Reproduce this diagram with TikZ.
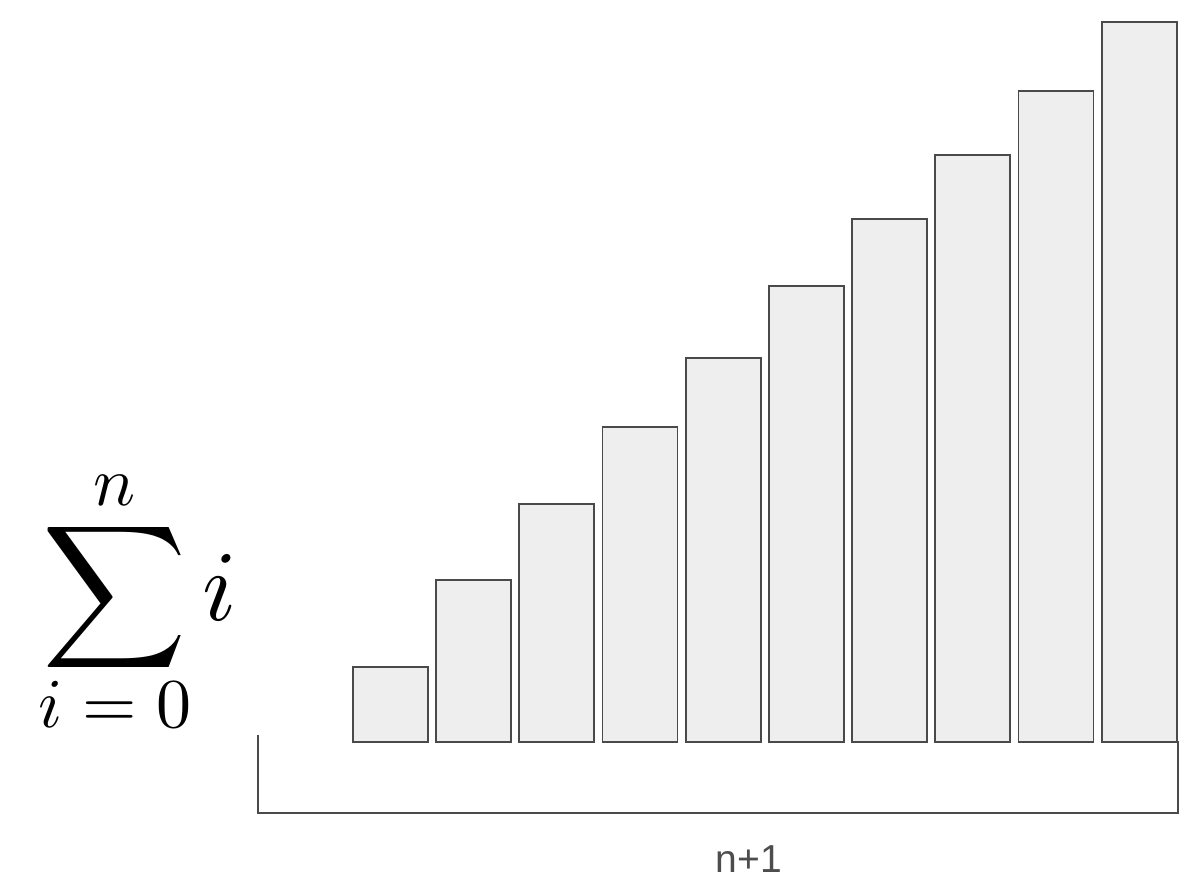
\documentclass[tikz,border=0pt]{standalone}
\usepackage{fontspec}
\usepackage{xcolor}
\usetikzlibrary{positioning}
\newfontfamily\labelfont{Liberation Sans}
\definecolor{barfill}{HTML}{EEEEEE}
\definecolor{edge}{HTML}{4A4A4A}
\definecolor{labelgray}{HTML}{4D4D4D}

\begin{document}
\begin{tikzpicture}[
    x=1pt, y=-1pt,
    bar/.style={draw=edge, fill=barfill, line width=1.8pt, inner sep=0pt,
                minimum width=75pt, minimum height=#1, anchor=south west},
    brace/.style={draw=edge, line width=1.6pt},
    countlabel/.style={font=\labelfont\fontsize{39}{44}\selectfont, text=labelgray},
    bigmath/.style={scale=#1, inner sep=0pt},
  ]
  \useasboundingbox (0,0) rectangle (1200,883);

  % staircase of bars, one per term
  \foreach \k/\top in {0/668, 1/581, 2/505, 3/428, 4/359,
                       5/287, 6/220, 7/156, 8/92, 9/23} {
    \pgfmathsetmacro{\xl}{352+83.2*\k}
    \pgfmathsetmacro{\h}{743-\top}
    \node[bar=\h pt] (bar\k) at (\xl,743) {};
  }

  % bracket under the bars
  \coordinate (bl) at (258,735);
  \coordinate (br) at (1178,741);
  \draw[brace] (bl) -- (bl |- 0,813) -- (br |- 0,813) -- (br);
  \node[countlabel] (count) at (749,859) {n+1};

  % the sum
  \node[bigmath=10] (sigma)   at (115,597) {$\displaystyle\sum$};
  \node[bigmath=7]  (upper)   at (115,490) {$n$};
  \node[bigmath=7]  (lower)   at (115,704) {$i=0$};
  \node[bigmath=10] (summand) at (220,588) {$i$};
\end{tikzpicture}
\end{document}
